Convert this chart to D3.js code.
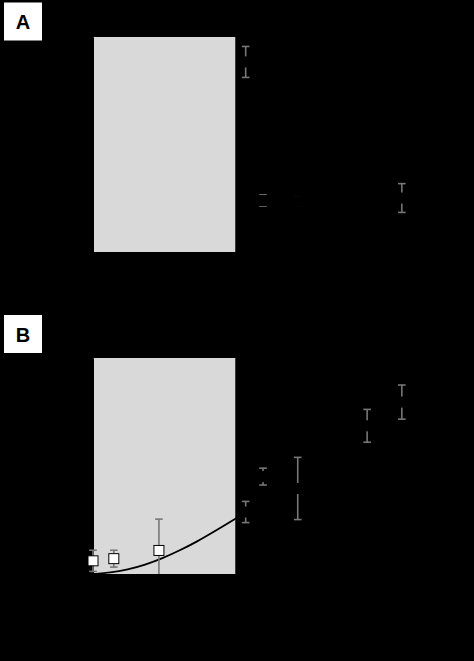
<!DOCTYPE html>
<html>
<head>
<meta charset="utf-8">
<script src="https://cdn.jsdelivr.net/npm/d3@7"></script>
<style>
    html, body { margin: 0; padding: 0; background: #000; }
    svg { display: block; }
</style>
</head>
<body>
<svg id="chart" width="474" height="661" viewBox="0 0 474 661"></svg>
<script>
// shared x positions of the measurements
const shadedRange = [0, 41];
const xTicks = [0, 20, 40, 60, 80, 100];
const yTicks = [0, 20, 40, 60, 80, 100];

// panel A: filled markers
const aX = [44, 49, 59, 89];
const aY = [88.4, 24.0, 23.3, 25.1];
const aErr = [7.2, 2.6, 2.0, 6.7];

// panel B: open markers (inside shaded range)
const bOpenX = [0, 6, 19];
const bOpenY = [6.1, 7.1, 10.9];
const bOpenErr = [4.9, 3.9, 14.5];

// panel B: filled markers
const bX = [44, 49, 59, 79, 89];
const bY = [28.7, 45.1, 39.6, 68.6, 79.6];
const bErr = [4.9, 3.9, 14.4, 7.6, 7.9];

// panel B: fitted curve
const fitX = [0, 5, 10, 15, 20, 25, 30, 35, 41, 50, 60, 70, 80, 90, 100];
const fitY = [0, 0.6, 2.0, 4.2, 7.2, 10.9, 15.0, 19.7, 25.5, 34.5, 45.5, 57.5, 70.5, 84.5, 99.5];

const svg = d3.select("#chart");

function drawPanel(top, bottom, label, labelY, series, fit) {
    const x = d3.scaleLinear().domain([0, 100]).range([93, 440]);
    const y = d3.scaleLinear().domain([0, 100]).range([bottom, top]);

    const g = svg.append("g");
    const clipId = "clip" + label;

    g.append("clipPath")
        .attr("id", clipId)
        .append("rect")
        .attr("x", x(0) - 8)
        .attr("y", top)
        .attr("width", x(100) - x(0) + 16)
        .attr("height", bottom - top);

    g.append("rect")
        .attr("x", x(shadedRange[0]))
        .attr("y", top)
        .attr("width", x(shadedRange[1]) - x(shadedRange[0]))
        .attr("height", bottom - top)
        .attr("fill", "#d9d9d9");

    // axes are drawn in black, as in the original figure
    const xAxis = g.append("g")
        .attr("transform", `translate(0, ${bottom})`)
        .call(d3.axisBottom(x).tickValues(xTicks).tickSize(5));
    const yAxis = g.append("g")
        .attr("transform", `translate(${x(0)}, 0)`)
        .call(d3.axisLeft(y).tickValues(yTicks).tickSize(5));
    [xAxis, yAxis].forEach(a => {
        a.selectAll("path, line").attr("stroke", "#000");
        a.selectAll("text")
            .attr("fill", "#000")
            .style("font-family", "Liberation Sans, Arial, sans-serif")
            .style("font-size", "11px");
    });

    g.append("text")
        .attr("x", (x(0) + x(100)) / 2)
        .attr("y", bottom + 36)
        .attr("text-anchor", "middle")
        .attr("fill", "#000")
        .style("font-family", "Liberation Sans, Arial, sans-serif")
        .style("font-size", "13px")
        .text("Temperature (°C)");

    g.append("text")
        .attr("transform", `translate(52, ${(top + bottom) / 2}) rotate(-90)`)
        .attr("text-anchor", "middle")
        .attr("fill", "#000")
        .style("font-family", "Liberation Sans, Arial, sans-serif")
        .style("font-size", "13px")
        .text("Response (%)");

    const plot = g.append("g").attr("clip-path", `url(#${clipId})`);

    if (fit) {
        const line = d3.line()
            .x(d => x(d[0]))
            .y(d => y(d[1]))
            .curve(d3.curveBasis);
        plot.append("path")
            .datum(fit.xs.map((v, i) => [v, fit.ys[i]]))
            .attr("d", line)
            .attr("fill", "none")
            .attr("stroke", "#000")
            .attr("stroke-width", 1.8);
    }

    series.forEach(s => {
        const pts = s.xs.map((v, i) => ({ x: v, y: s.ys[i], e: s.errs[i] }));

        const bars = plot.append("g")
            .selectAll("g")
            .data(pts)
            .enter()
            .append("g")
            .attr("stroke", "#777")
            .attr("stroke-width", 1.6);
        bars.append("line")
            .attr("x1", d => x(d.x)).attr("x2", d => x(d.x))
            .attr("y1", d => y(d.y + d.e)).attr("y2", d => y(d.y - d.e));
        bars.append("line")
            .attr("x1", d => x(d.x) - 3.8).attr("x2", d => x(d.x) + 3.8)
            .attr("y1", d => y(d.y + d.e)).attr("y2", d => y(d.y + d.e));
        bars.append("line")
            .attr("x1", d => x(d.x) - 3.8).attr("x2", d => x(d.x) + 3.8)
            .attr("y1", d => y(d.y - d.e)).attr("y2", d => y(d.y - d.e));

        plot.append("g")
            .selectAll("rect")
            .data(pts)
            .enter()
            .append("rect")
            .attr("x", d => x(d.x) - 5)
            .attr("y", d => y(d.y) - 5)
            .attr("width", 10)
            .attr("height", 10)
            .attr("fill", s.fill)
            .attr("stroke", "#000")
            .attr("stroke-width", 1);
    });

    const box = svg.append("g").attr("transform", `translate(4, ${labelY})`);
    box.append("rect")
        .attr("width", 38)
        .attr("height", 38)
        .attr("fill", "#fff");
    box.append("text")
        .attr("x", 19)
        .attr("y", 26.5)
        .attr("text-anchor", "middle")
        .style("font-family", "Liberation Sans, Arial, sans-serif")
        .style("font-weight", "bold")
        .style("font-size", "20px")
        .text(label);
}

drawPanel(37, 252, "A", 2.5,
    [{ xs: aX, ys: aY, errs: aErr, fill: "#000" }],
    null);

drawPanel(358, 574, "B", 315,
    [{ xs: bOpenX, ys: bOpenY, errs: bOpenErr, fill: "#fff" },
     { xs: bX, ys: bY, errs: bErr, fill: "#000" }],
    { xs: fitX, ys: fitY });
</script>
</body>
</html>
